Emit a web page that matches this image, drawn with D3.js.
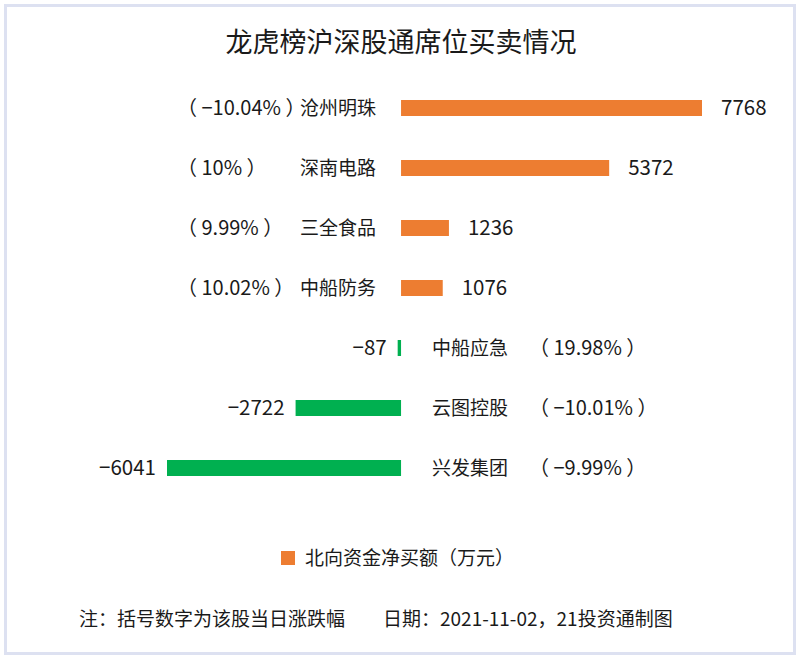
<!DOCTYPE html>
<html>
  <head>
    <meta charset="utf-8" />
    <title>龙虎榜沪深股通席位买卖情况</title>
    <script src="https://d3js.org/d3.v7.min.js"></script>
    <style>
      body { margin: 0; background: #fff; }
      text { font-family: "Noto Sans CJK SC", "Noto Sans", sans-serif; fill: #1a1a1a; }
    </style>
  </head>
  <body>
    <svg id="chart" width="800" height="660"></svg>
    <script>
        var names = ["沧州明珠", "深南电路", "三全食品", "中船防务", "中船应急", "云图控股", "兴发集团"];
        var values = [7768, 5372, 1236, 1076, -87, -2722, -6041];
        var changes = ["-10.04%", "10%", "9.99%", "10.02%", "19.98%", "-10.01%", "-9.99%"];

        var title = "龙虎榜沪深股通席位买卖情况";
        var legendLabel = "北向资金净买额（万元）";
        var note = "注：括号数字为该股当日涨跌幅";
        var source = "日期：2021-11-02，21投资通制图";

        var rows = names.map(function(n, i) {
            return { name: n, value: values[i], change: changes[i] };
        });

        var svg = d3.select("#chart");
        var fmt = d3.format("d");

        // frame
        svg.append("rect")
          .attr("x", 5.5).attr("y", 5.5)
          .attr("width", 789).attr("height", 648)
          .attr("fill", "none")
          .attr("stroke", "#dde1f1")
          .attr("stroke-width", 3);

        svg.append("text")
          .attr("x", 401).attr("y", 52)
          .attr("text-anchor", "middle")
          .style("font-size", "27px")
          .text(title);

        var x = d3.scaleLinear()
          .domain([d3.min(values), d3.max(values)])
          .range([167, 702]);

        var y = d3.scalePoint()
          .domain(names)
          .range([78, 498])
          .padding(0.5);

        var barH = 16;

        var g = svg.selectAll("g.row")
          .data(rows)
          .enter().append("g")
          .attr("class", "row")
          .attr("transform", function(d) { return "translate(0," + y(d.name) + ")"; });

        g.append("rect")
          .attr("x", function(d) { return Math.min(x(0), x(d.value)); })
          .attr("y", -barH / 2)
          .attr("width", function(d) { return Math.abs(x(d.value) - x(0)); })
          .attr("height", barH)
          .attr("fill", function(d) { return d.value >= 0 ? "#ed7d31" : "#00b050"; });

        // value labels
        g.append("text")
          .attr("x", function(d) { return d.value >= 0 ? x(d.value) + 19 : x(d.value) - 11; })
          .attr("y", 7)
          .attr("text-anchor", function(d) { return d.value >= 0 ? "start" : "end"; })
          .style("font-size", "20.5px")
          .text(function(d) { return fmt(d.value); });

        // stock names
        g.append("text")
          .attr("x", function(d) { return d.value >= 0 ? 300 : 432; })
          .attr("y", 7)
          .style("font-size", "19px")
          .text(function(d) { return d.name; });

        // daily change
        g.append("text")
          .attr("x", function(d) { return d.value >= 0 ? 177 : 529; })
          .attr("y", 7)
          .style("font-size", "20px")
          .text(function(d) { return "（ " + d.change.replace("-", "−") + " ）"; });

        // legend
        svg.append("rect")
          .attr("x", 281).attr("y", 551)
          .attr("width", 14).attr("height", 14)
          .attr("fill", "#ed7d31");

        svg.append("text")
          .attr("x", 305).attr("y", 565)
          .style("font-size", "19px")
          .text(legendLabel);

        svg.append("text")
          .attr("x", 79).attr("y", 626)
          .style("font-size", "19px")
          .text(note);

        svg.append("text")
          .attr("x", 383).attr("y", 626)
          .style("font-size", "19px")
          .text(source);
    </script>
  </body>
</html>
